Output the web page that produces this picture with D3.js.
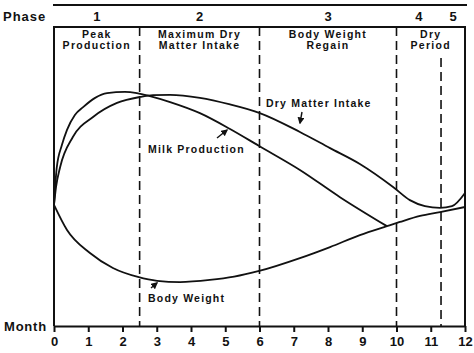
<!DOCTYPE html>
<html>
<head>
<meta charset="utf-8">
<script src="https://cdn.jsdelivr.net/npm/d3@7"></script>
<style>
  body { margin: 0; background: #fff; }
  svg text { font-family: "Liberation Sans", Arial, sans-serif; font-weight: bold; fill: #111; }
</style>
</head>
<body>
<div id="chart"></div>
<script>
// months and relative levels
var milkMonths = [0, 0.08, 0.23, 0.38, 0.61, 0.85, 1.2, 1.55, 2.07, 2.42, 2.8, 3.39, 4.26, 5.14, 5.99, 7.18, 8.35, 9.72];
var milkValues = [40.5, 53, 60.5, 65.6, 70.6, 73.2, 76.3, 77.9, 78.3, 77.9, 76.9, 74.9, 71.2, 65.9, 60.2, 52.2, 43.1, 33.4];

var dmiMonths = [0, 0.06, 0.18, 0.55, 1.14, 1.84, 2.51, 2.89, 3.39, 4.26, 5.14, 5.99, 7.18, 8.06, 8.93, 9.9, 10.39, 10.83, 11.27, 11.62, 12];
var dmiValues = [40.5, 46.5, 53.2, 63.2, 69.9, 74.6, 76.6, 77.2, 77.3, 76.3, 74.1, 71.3, 64.9, 59.5, 54.2, 46.5, 42.1, 40.1, 39.5, 40.1, 44.5];

var bwMonths = [0, 0.38, 1.05, 1.72, 2.45, 3.01, 3.68, 4.55, 5.26, 5.99, 7.18, 8.06, 8.93, 9.72, 10.1, 10.69, 11.27, 12];
var bwValues = [40.5, 32.1, 24.4, 19.4, 16.4, 15.1, 14.7, 15.4, 16.5, 18.4, 22.7, 26.4, 30.4, 33.4, 34.8, 36.8, 38.1, 39.8];

var monthTicks = [0, 1, 2, 3, 4, 5, 6, 7, 8, 9, 10, 11, 12];
var phaseBounds = [0, 2.5, 6, 10, 11.3, 12];
var phaseNames = ["1", "2", "3", "4", "5"];
var dividers = [2.5, 6, 10, 11.3];
var sections = [
  {from: 0, to: 2.5, lines: ["Peak", "Production"]},
  {from: 2.5, to: 6, lines: ["Maximum Dry", "Matter Intake"]},
  {from: 6, to: 10, lines: ["Body Weight", "Regain"]},
  {from: 10, to: 12, lines: ["Dry", "Period"]}
];

var width = 474, height = 353;
var svg = d3.select("#chart").append("svg")
    .attr("width", width)
    .attr("height", height);

var x = d3.scaleLinear().domain([0, 12]).range([54, 465]);
var y = d3.scaleLinear().domain([0, 100]).range([326, 27]);

svg.append("defs").append("marker")
    .attr("id", "arrow")
    .attr("viewBox", "0 0 10 10")
    .attr("refX", 8).attr("refY", 5)
    .attr("markerWidth", 5).attr("markerHeight", 5)
    .attr("orient", "auto")
    .append("path")
    .attr("d", "M0,0 L10,5 L0,10 z")
    .attr("fill", "#111");

// phase bar at the top
svg.append("line")
    .attr("x1", x(0) - 1).attr("x2", x(12) + 2)
    .attr("y1", 5).attr("y2", 5)
    .attr("stroke", "#111").attr("stroke-width", 2);

svg.append("text")
    .attr("x", 3).attr("y", 21)
    .style("font-size", "13px")
    .style("letter-spacing", "1px")
    .text("Phase");

svg.selectAll(".phase")
    .data(phaseNames)
    .enter().append("text")
    .attr("class", "phase")
    .attr("x", function (d, i) { return x((phaseBounds[i] + phaseBounds[i + 1]) / 2); })
    .attr("y", 21)
    .attr("text-anchor", "middle")
    .style("font-size", "13px")
    .text(function (d) { return d; });

// box
svg.append("path")
    .attr("d", "M" + x(0) + "," + y(0) + "V" + y(100) + "H" + x(12) + "V" + y(0))
    .attr("fill", "none")
    .attr("stroke", "#111").attr("stroke-width", 2);

// dashed phase dividers (the last one starts below the "Dry Period" title)
svg.selectAll(".divider")
    .data(dividers)
    .enter().append("line")
    .attr("class", "divider")
    .attr("x1", function (d) { return x(d); })
    .attr("x2", function (d) { return x(d); })
    .attr("y1", function (d, i) { return i === dividers.length - 1 ? 58 : y(100); })
    .attr("y2", y(0))
    .attr("stroke", "#111")
    .attr("stroke-width", 1.6)
    .attr("stroke-dasharray", "9,5");

// section titles
sections.forEach(function (s) {
  var t = svg.append("text")
      .attr("x", x((s.from + s.to) / 2))
      .attr("y", 38)
      .attr("text-anchor", "middle")
      .style("font-size", "10.5px")
      .style("letter-spacing", "1.3px");
  s.lines.forEach(function (l, i) {
    t.append("tspan")
        .attr("x", x((s.from + s.to) / 2))
        .attr("dy", i === 0 ? 0 : 11)
        .text(l);
  });
});

// x axis
var axis = svg.append("g")
    .attr("transform", "translate(0," + y(0) + ")")
    .call(d3.axisBottom(x).tickValues(monthTicks).tickSize(6).tickSizeOuter(0).tickPadding(5)
        .tickFormat(d3.format("d")));
axis.select(".domain").attr("stroke", "#111").attr("stroke-width", 2);
axis.selectAll(".tick line").attr("stroke", "#111").attr("stroke-width", 2);
axis.selectAll(".tick text")
    .style("font-size", "13px")
    .style("font-family", "'Liberation Sans', Arial, sans-serif")
    .style("font-weight", "bold")
    .attr("fill", "#111");

svg.append("text")
    .attr("x", 4).attr("y", y(0) + 5)
    .style("font-size", "13px")
    .style("letter-spacing", "0.8px")
    .text("Month");

// curves
var line = d3.line()
    .x(function (d) { return x(d[0]); })
    .y(function (d) { return y(d[1]); })
    .curve(d3.curveMonotoneX);

var series = [
  d3.zip(milkMonths, milkValues),
  d3.zip(dmiMonths, dmiValues),
  d3.zip(bwMonths, bwValues)
];

svg.selectAll(".curve")
    .data(series)
    .enter().append("path")
    .attr("class", "curve")
    .attr("d", line)
    .attr("fill", "none")
    .attr("stroke", "#111")
    .attr("stroke-width", 1.8);

// labels with small arrows
var labels = [
  {text: "Milk Production", lx: 148, ly: 153, a: [[217, 138], [227, 130]]},
  {text: "Dry Matter Intake", lx: 266, ly: 107, a: [[302, 112], [300, 123]]},
  {text: "Body Weight", lx: 148, ly: 302, a: [[151, 288], [157, 283]]}
];

labels.forEach(function (l) {
  svg.append("text")
      .attr("x", l.lx).attr("y", l.ly)
      .style("font-size", "10.5px")
      .style("letter-spacing", "1.2px")
      .text(l.text);
  svg.append("line")
      .attr("x1", l.a[0][0]).attr("y1", l.a[0][1])
      .attr("x2", l.a[1][0]).attr("y2", l.a[1][1])
      .attr("stroke", "#111")
      .attr("stroke-width", 1.4)
      .attr("marker-end", "url(#arrow)");
});
</script>
</body>
</html>
